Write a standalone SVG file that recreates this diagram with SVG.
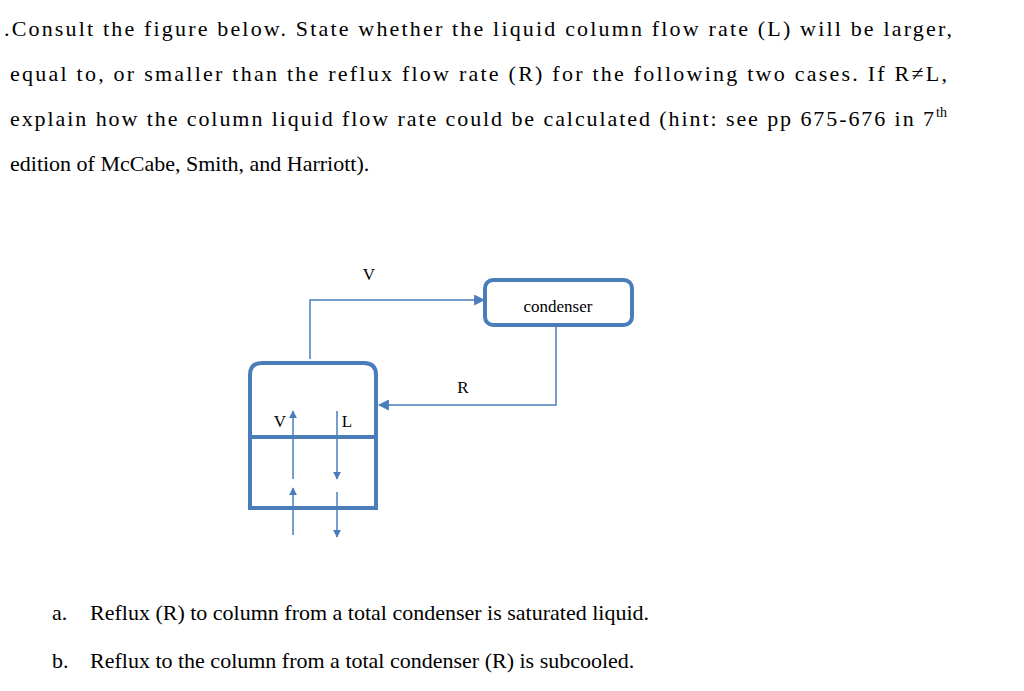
<svg xmlns="http://www.w3.org/2000/svg" width="1024" height="691" viewBox="0 0 1024 691">
<style>
text{font-family:"Liberation Serif",serif;fill:#000}
.p{font-size:22px}
.l{font-size:17px}
.box{fill:none;stroke:#4a7ebb;stroke-width:4}
.c{fill:none;stroke:#4a7ebb;stroke-width:1.5}
</style>
<defs><marker id="a" viewBox="0 0 10 10" refX="9" refY="5" markerWidth="8" markerHeight="8" markerUnits="userSpaceOnUse" orient="auto"><path d="M0,0L10,5L0,10z" fill="#4a7ebb"/></marker>
<marker id="b" viewBox="0 0 10 10" refX="9" refY="5" markerWidth="11" markerHeight="11" markerUnits="userSpaceOnUse" orient="auto"><path d="M0,0L10,5L0,10z" fill="#4a7ebb"/></marker></defs>
<rect width="1024" height="691" fill="#fff"/>
<text class="p" x="4" y="36" textLength="948" lengthAdjust="spacing">.Consult the figure below.  State whether the liquid column flow rate (L) will be larger,</text>
<text class="p" x="10" y="81" textLength="937" lengthAdjust="spacing">equal to, or smaller than the reflux flow rate (R) for the following two cases.  If R≠L,</text>
<text class="p" x="10" y="126" textLength="924" lengthAdjust="spacing">explain how the column liquid flow rate could be calculated (hint: see pp 675-676 in 7</text>
<text x="936" y="117" font-size="14">th</text>
<text class="p" x="10" y="171">edition of McCabe, Smith, and Harriott).</text>
<text class="p" x="52" y="620">a.</text><text class="p" x="90" y="620">Reflux (R) to column from a total condenser is saturated liquid.</text>
<text class="p" x="52" y="668">b.</text><text class="p" x="90" y="668">Reflux to the column from a total condenser (R) is subcooled.</text>
<g id="column"><path class="box" d="M250,508V375Q250,363 262,363H364Q376,363 376,375V508Z"/><line class="box" x1="250" y1="437" x2="376" y2="437"/></g>
<g id="condenser"><rect class="box" x="485" y="280" width="147" height="45" rx="8"/><text class="l" x="558" y="312" text-anchor="middle">condenser</text></g>
<g id="connectors">
<path class="c" d="M310,359V300H484" marker-end="url(#b)"/>
<path class="c" d="M556,327V405H379" marker-end="url(#b)"/>
<line class="c" x1="293" y1="479" x2="293" y2="411" marker-end="url(#a)"/>
<line class="c" x1="293" y1="535" x2="293" y2="488" marker-end="url(#a)"/>
<line class="c" x1="337" y1="411" x2="337" y2="479" marker-end="url(#a)"/>
<line class="c" x1="337" y1="492" x2="337" y2="537" marker-end="url(#a)"/>
</g>
<text class="l" x="369" y="280" text-anchor="middle">V</text>
<text class="l" x="463" y="393" text-anchor="middle">R</text>
<text class="l" x="280" y="427" text-anchor="middle">V</text>
<text class="l" x="347" y="427" text-anchor="middle">L</text>
</svg>
